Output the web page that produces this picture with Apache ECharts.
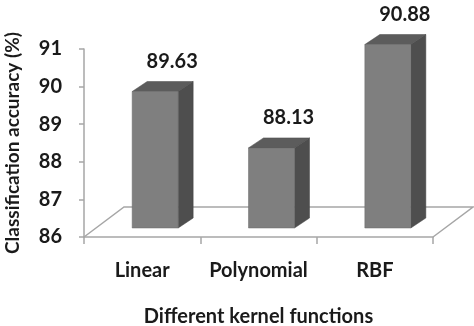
<!DOCTYPE html>
<html>
<head>
<meta charset="utf-8">
<script src="https://cdn.jsdelivr.net/npm/echarts@6/dist/echarts.min.js"></script>
<style>
html,body{margin:0;padding:0;background:#fff;}
#chart{width:474px;height:326px;}
</style>
</head>
<body>
<div id="chart"></div>
<script>
const categories = ['Linear', 'Polynomial', 'RBF'];
const accuracy = [89.63, 88.13, 90.88];
const yTicks = [86, 87, 88, 89, 90, 91];
const xTitle = 'Different kernel functions';
const yTitle = 'Classification accuracy (%)';

const FONT = 'Lato, "Open Sans", sans-serif';
const chart = echarts.init(document.getElementById('chart'));

const Y_MIN = yTicks[0], Y_MAX = yTicks[yTicks.length - 1];

function renderBar(params, api) {
  const cat = api.value(0), val = api.value(1);
  const top = api.coord([cat, val]);
  const base = api.coord([cat, Y_MIN]);
  const bw = 46, sx = 13, sy = -9, dx = 15, dy = -10;
  const x0 = top[0] - bw / 2 + sx;
  const x1 = x0 + bw;
  const yt = top[1] + sy;
  const yb = base[1] + sy;
  return {
    type: 'group',
    children: [
      { type: 'polygon', shape: { points: [[x1, yt], [x1 + dx, yt + dy], [x1 + dx, yb + dy], [x1, yb]] },
        style: { fill: '#4e4e4e', stroke: '#444', lineWidth: 0.5 } },
      { type: 'polygon', shape: { points: [[x0, yt], [x0 + dx, yt + dy], [x1 + dx, yt + dy], [x1, yt]] },
        style: { fill: '#5c5c5c', stroke: '#4a4a4a', lineWidth: 0.5 } },
      { type: 'rect', shape: { x: x0, y: yt, width: bw, height: yb - yt },
        style: { fill: '#7f7f7f', stroke: '#6a6a6a', lineWidth: 0.5 } },
      { type: 'text', x: top[0] + 30, y: top[1] - 39,
        style: { text: String(val.toFixed(2)), fill: '#1a1a1a', font: 'bold 20px ' + FONT,
                 align: 'center', verticalAlign: 'middle' } }
    ]
  };
}

function renderFloor(params, api) {
  const cs = params.coordSys;
  const xl = cs.x, xr = cs.x + cs.width, yf = cs.y + cs.height;
  const fdx = 40, fdy = -30;
  return {
    type: 'polyline',
    shape: { points: [[xl, yf], [xl + fdx, yf + fdy], [xr + fdx, yf + fdy], [xr, yf]] },
    style: { fill: null, stroke: '#a6a6a6', lineWidth: 1.5 },
    z2: 0
  };
}

chart.setOption({
  backgroundColor: '#ffffff',
  animation: false,
  grid: { left: 84, right: 41, top: 49, bottom: 89, containLabel: false, outerBoundsMode: 'none' },
  xAxis: {
    type: 'category',
    data: categories,
    boundaryGap: true,
    name: xTitle,
    nameLocation: 'middle',
    nameGap: 70,
    nameTextStyle: { fontFamily: FONT, fontSize: 20, fontWeight: 'bold', color: '#1a1a1a' },
    axisLine: { lineStyle: { color: '#a6a6a6', width: 1.5 } },
    axisTick: { show: true, length: 7, lineStyle: { color: '#a6a6a6', width: 1.5 } },
    axisLabel: { interval: 0, margin: 24, fontFamily: FONT, fontSize: 20, fontWeight: 'bold', color: '#1a1a1a' }
  },
  yAxis: {
    type: 'value',
    min: Y_MIN,
    max: Y_MAX,
    interval: 1,
    name: yTitle,
    nameLocation: 'middle',
    nameGap: 62,
    nameRotate: 90,
    nameTextStyle: { fontFamily: FONT, fontSize: 19, fontWeight: 'bold', color: '#1a1a1a' },
    splitLine: { show: false },
    axisLine: { show: true, lineStyle: { color: '#a6a6a6', width: 1.5 } },
    axisTick: { show: true, length: 5, lineStyle: { color: '#a6a6a6', width: 1.5 } },
    axisLabel: { margin: 22, fontFamily: FONT, fontSize: 20, fontWeight: 'bold', color: '#1a1a1a' }
  },
  series: [
    { type: 'custom', renderItem: renderFloor, data: [[0, Y_MIN]], z: 1, silent: true },
    { type: 'custom', renderItem: renderBar,
      data: categories.map((c, i) => [i, accuracy[i]]), z: 2 }
  ]
});
</script>
</body>
</html>
